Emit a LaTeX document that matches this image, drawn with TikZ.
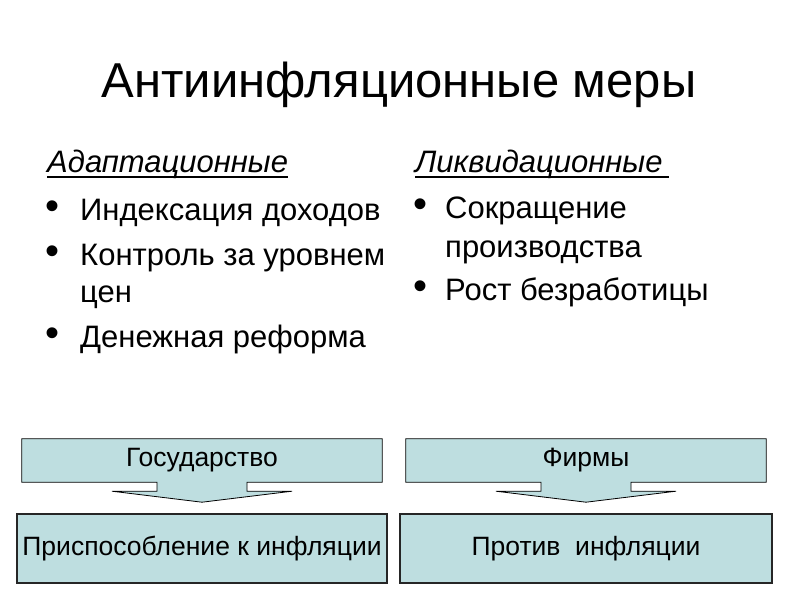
\documentclass[tikz,border=0pt]{standalone}
\usepackage{fontspec}
\setmainfont{Liberation Sans}
\usetikzlibrary{calc,backgrounds}
\definecolor{boxfill}{RGB}{190,222,224}
\begin{document}
\begin{tikzpicture}[x=1pt,y=-1pt,
  titletxt/.style={inner sep=0pt, anchor=base, font=\fontsize{49}{49}\selectfont},
  bodytxt/.style={inner sep=0pt, anchor=base west, font=\fontsize{31}{31}\selectfont},
  headtxt/.style={inner sep=0pt, anchor=base west, font=\fontsize{31}{31}\selectfont\itshape},
  bul/.style={inner sep=0pt, anchor=center, font=\fontsize{40}{40}\selectfont},
  uline/.style={line width=1.6pt},
  callout/.style={inner sep=0pt, minimum height=43pt, font=\fontsize{26.5}{26.5}\selectfont},
  calloutshape/.style={fill=boxfill, draw=black, line width=0.8pt},
  resultbox/.style={draw=black!85, fill=boxfill, line width=1.1pt, inner sep=0pt, minimum height=69pt, font=\fontsize{26.5}{26.5}\selectfont}
]
\begin{scope}[on background layer]
\fill[white] (0,0) rectangle (800,600);
\end{scope}
\useasboundingbox (0,0) rectangle (800,600);

% title
\node[titletxt] (title) at (399,97) {Антиинфляционные меры};

% left column
\node[headtxt] (adapt) at (47,172) {Адаптационные};
\draw[uline] ([yshift=-5pt]adapt.base west) -- ([yshift=-5pt]adapt.base east);
\node[bul] (b1) at (53,210) {•};
\node[bodytxt] (l1) at (80,220) {Индексация доходов};
\node[bul] (b2) at (53,255) {•};
\node[bodytxt] (l2) at (80,265) {Контроль за уровнем};
\node[bodytxt] (l3) at (80,302) {цен};
\node[bul] (b3) at (53,337) {•};
\node[bodytxt] (l4) at (80,347) {Денежная реформа};

% right column
\node[headtxt] (liq) at (415,172) {Ликвидационные};
\draw[uline] ([yshift=-5pt]liq.base west) -- ([yshift=-5pt,xshift=6pt]liq.base east);
\node[bul] (b4) at (420,208) {•};
\node[bodytxt] (r1) at (445,218) {Сокращение};
\node[bodytxt] (r2) at (445,257) {производства};
\node[bul] (b5) at (420,290) {•};
\node[bodytxt] (r3) at (445,300) {Рост безработицы};

% callout boxes
\node[callout, minimum width=360pt] (gos) at (202,460.5) {Государство};
\node[callout, minimum width=360pt] (firm) at (586,460.5) {Фирмы};
\begin{scope}[on background layer]
\foreach \n in {gos,firm}{
  \draw[calloutshape] (\n.north west) -- (\n.north east) -- (\n.south east)
    -- ($(\n.south)+(45,0)$) -- ($(\n.south)+(45,9)$) -- ($(\n.south)+(90,9)$)
    -- ($(\n.south)+(0,20)$)
    -- ($(\n.south)+(-90,9)$) -- ($(\n.south)+(-45,9)$) -- ($(\n.south)+(-45,0)$)
    -- (\n.south west) -- cycle;
}
\end{scope}

% result boxes
\node[resultbox, minimum width=370pt] (adj) at (202,548.5) {Приспособление к инфляции};
\node[resultbox, minimum width=372pt] (against) at (586,548.5) {Против\ \ инфляции};
\end{tikzpicture}
\end{document}
